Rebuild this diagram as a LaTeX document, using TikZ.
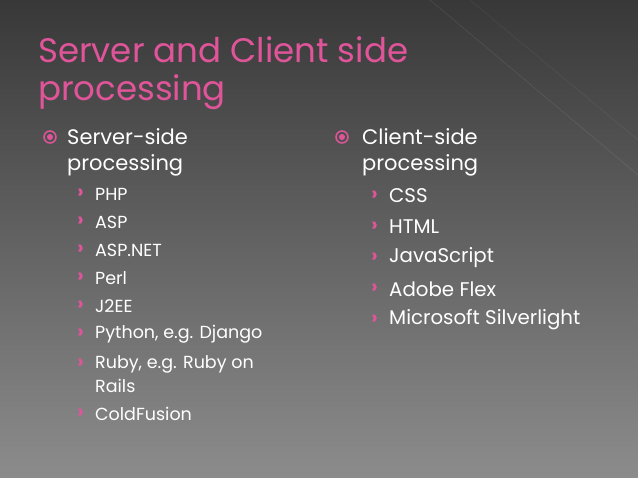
\documentclass[tikz,border=0pt]{standalone}
\usepackage{fontspec}
\setmainfont{Poppins}
\definecolor{pinkt}{HTML}{E0559A}
\definecolor{bgtop}{HTML}{383838}
\definecolor{bgbot}{HTML}{8C8C8C}
\begin{document}
\begin{tikzpicture}[x=1pt,y=-1pt,
  title/.style={anchor=west,text=pinkt,font=\fontsize{34}{36}\selectfont,inner sep=0pt},
  main/.style={anchor=west,text=white,font=\fontsize{21}{22}\selectfont,inner sep=0pt},
  subl/.style={anchor=west,text=white,font=\fontsize{17.5}{20}\selectfont,inner sep=0pt,align=left},
  subr/.style={anchor=west,text=white,font=\fontsize{19.8}{20}\selectfont,inner sep=0pt},
  chev/.style={anchor=west,text=pinkt,inner sep=0pt,font=\fontsize{20}{20}\selectfont\bfseries}]
\useasboundingbox (0,0) rectangle (638,478);
\shade[top color=bgtop,bottom color=bgbot] (0,0) rectangle (638,478);
\draw[white,opacity=0.12] (430,0) -- (638,175);
\draw[white,opacity=0.08] (470,0) -- (638,140);
\node[title] (t1) at (38,50) {Server and Client side};
\node[title] (t2) at (38,92) {processing};
% left
\draw[pinkt,line width=1.5pt] (50,137) circle (6);
\fill[pinkt] (50,137) circle (3);
\node[main] (l1) at (67,137) {Server-side};
\node[main] (l2) at (67,165) {processing};
\foreach \y/\t in {194/PHP,222/ASP,250/ASP.NET,278/Perl,306/J2EE,334/{Python, e.g. Django},364/{Ruby, e.g. Ruby on},414/ColdFusion}{
  \node[chev] at (77,\y) {›};
  \node[subl] at (95,\y) {\t};
}
\node[subl] (rails) at (95,386) {Rails};
% right
\draw[pinkt,line width=1.5pt] (342,137) circle (6);
\fill[pinkt] (342,137) circle (3);
\node[main] (r1) at (362,137) {Client-side};
\node[main] (r2) at (362,165) {processing};
\foreach \y/\t in {196/CSS,227/HTML,258/JavaScript,289/Adobe Flex,320/Microsoft Silverlight}{
  \node[chev] at (371,\y) {›};
  \node[subr] at (389,\y) {\t};
}
\end{tikzpicture}
\end{document}
